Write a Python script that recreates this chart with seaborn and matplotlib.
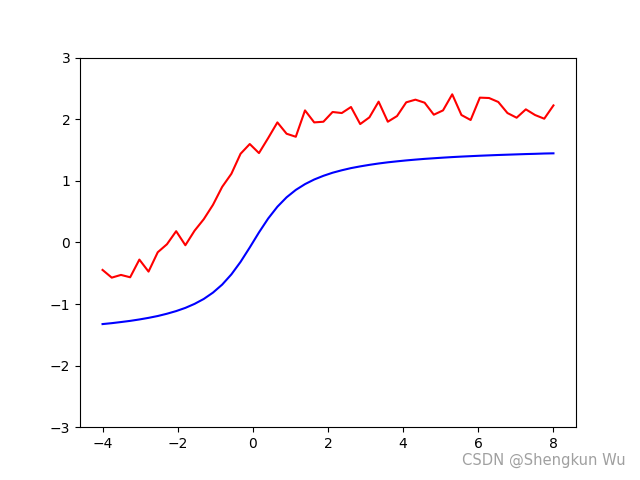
import numpy as np
import pandas as pd
import seaborn as sns
from matplotlib import pyplot as plt

# x grid, 50 points from -4 to 8
x = [-4.000, -3.755, -3.510, -3.265, -3.020, -2.776, -2.531, -2.286, -2.041, -1.796,
     -1.551, -1.306, -1.061, -0.816, -0.571, -0.327, -0.082, 0.163, 0.408, 0.653,
     0.898, 1.143, 1.388, 1.633, 1.878, 2.122, 2.367, 2.612, 2.857, 3.102,
     3.347, 3.592, 3.837, 4.082, 4.327, 4.571, 4.816, 5.061, 5.306, 5.551,
     5.796, 6.041, 6.286, 6.531, 6.776, 7.020, 7.265, 7.510, 7.755, 8.000]

# smooth curve (blue)
smooth = [-1.326, -1.311, -1.293, -1.274, -1.251, -1.225, -1.195, -1.158, -1.115, -1.063,
          -0.998, -0.918, -0.815, -0.685, -0.519, -0.316, -0.082, 0.162, 0.388, 0.579,
          0.732, 0.852, 0.946, 1.021, 1.081, 1.131, 1.171, 1.206, 1.234, 1.259,
          1.281, 1.300, 1.316, 1.331, 1.344, 1.356, 1.366, 1.376, 1.385, 1.393,
          1.400, 1.407, 1.413, 1.419, 1.424, 1.429, 1.434, 1.438, 1.443, 1.446]

# noisy curve (red)
noisy = [-0.447, -0.572, -0.528, -0.566, -0.279, -0.474, -0.160, -0.030, 0.182, -0.046,
         0.190, 0.377, 0.610, 0.902, 1.114, 1.439, 1.597, 1.450, 1.694, 1.948,
         1.764, 1.715, 2.143, 1.948, 1.959, 2.117, 2.100, 2.198, 1.921, 2.030,
         2.285, 1.959, 2.051, 2.274, 2.317, 2.268, 2.073, 2.143, 2.404, 2.068,
         1.987, 2.350, 2.344, 2.280, 2.100, 2.024, 2.160, 2.068, 2.008, 2.224]

df = pd.DataFrame({'x': x, 'smooth': smooth, 'noisy': noisy})

fig, ax = plt.subplots(figsize=(6.4, 4.8), dpi=100)
sns.lineplot(data=df, x='x', y='smooth', color='blue', ax=ax)
sns.lineplot(data=df, x='x', y='noisy', color='red', ax=ax)
ax.set_ylim(-3, 3)
ax.set_xlabel('')
ax.set_ylabel('')

fig.text(0.977, 0.040, 'CSDN @Shengkun Wu', ha='right', va='center',
         fontsize=10.6, color='#a0a0a0')

plt.savefig('out.png')
